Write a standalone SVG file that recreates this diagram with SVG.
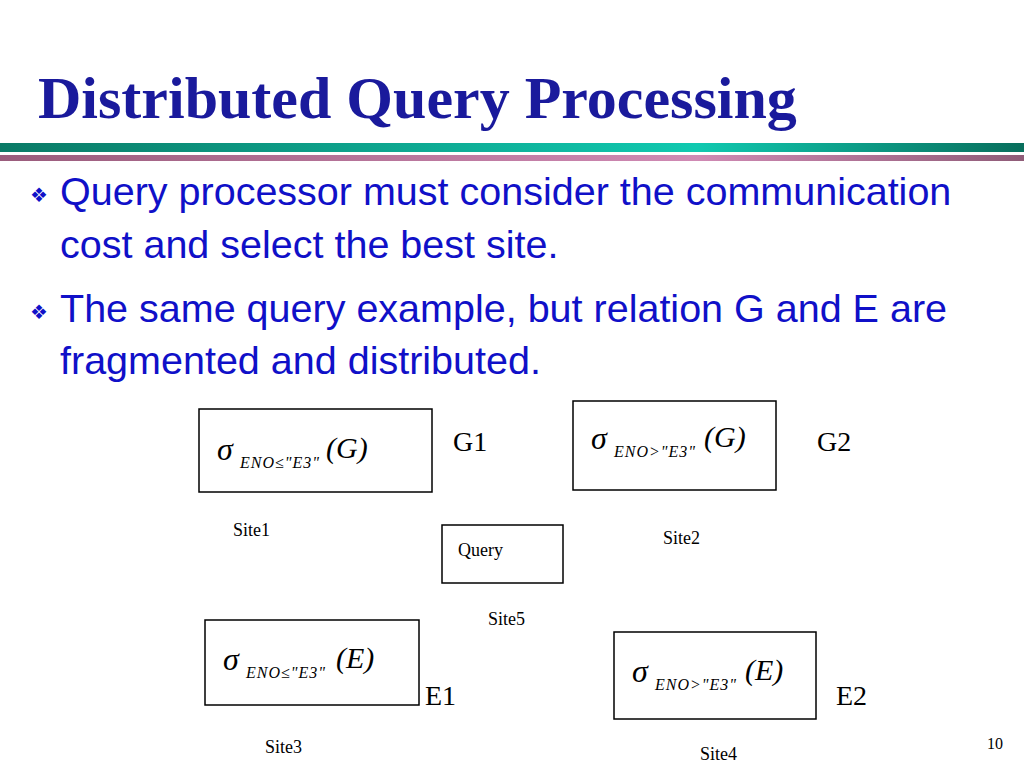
<svg xmlns="http://www.w3.org/2000/svg" width="1024" height="768" viewBox="0 0 1024 768">
<defs>
<linearGradient id="tg" x1="0" x2="1"><stop offset="0" stop-color="#0a7a66"/><stop offset="0.68" stop-color="#10c9b0"/><stop offset="1" stop-color="#086e5c"/></linearGradient>
<linearGradient id="pg" x1="0" x2="1"><stop offset="0" stop-color="#9a5c7c"/><stop offset="0.68" stop-color="#d08ab4"/><stop offset="1" stop-color="#8f5c78"/></linearGradient>
</defs>
<style>
.b{font-family:"Liberation Sans",Arial,sans-serif;font-size:39.5px;fill:#1010c8}
.d{font-family:"DejaVu Sans",sans-serif;font-size:20px;fill:#1010c8}
.s{font-family:"Liberation Serif","Times New Roman",serif;fill:#000}
.box{fill:#fff;stroke:#000;stroke-width:1.5}
.m{font-family:"Liberation Serif",serif;font-style:italic;fill:#000}
.sub{font-family:"Liberation Serif",serif;font-style:italic;fill:#000;font-size:16px;letter-spacing:1px}
</style>
<rect width="1024" height="768" fill="#fff"/>
<text x="38" y="118" font-family="Liberation Serif,serif" font-weight="bold" font-size="60" fill="#1a1a9c">Distributed Query Processing</text>
<rect x="0" y="143" width="1024" height="9" fill="url(#tg)"/>
<rect x="0" y="155" width="1024" height="6" fill="url(#pg)"/>
<text x="30" y="202" class="d">❖</text>
<text x="60" y="205" class="b">Query processor must consider the communication</text>
<text x="60" y="258" class="b">cost and select the best site.</text>
<text x="30" y="319" class="d">❖</text>
<text x="60" y="322" class="b">The same query example, but relation G and E are</text>
<text x="60" y="374" class="b">fragmented and distributed.</text>
<g id="site1"><rect class="box" x="199" y="409" width="233" height="83"/>
<text class="m" x="217" y="460" font-size="32">σ</text><text class="sub" x="240" y="468">ENO≤"E3"</text><text class="m" x="326" y="458" font-size="30">(G)</text>
<text class="s" x="233" y="536" font-size="18">Site1</text></g>
<text class="s" x="453" y="451" font-size="28">G1</text>
<g id="site2"><rect class="box" x="573" y="401" width="203" height="89"/>
<text class="m" x="591" y="449" font-size="32">σ</text><text class="sub" x="614" y="457">ENO&gt;"E3"</text><text class="m" x="704" y="447" font-size="30">(G)</text>
<text class="s" x="663" y="544" font-size="18">Site2</text></g>
<text class="s" x="817" y="451" font-size="28">G2</text>
<g id="site5"><rect class="box" x="442" y="525" width="121" height="58"/>
<text class="s" x="458" y="556" font-size="18">Query</text>
<text class="s" x="488" y="625" font-size="18">Site5</text></g>
<g id="site3"><rect class="box" x="205" y="620" width="214" height="85"/>
<text class="m" x="223" y="670" font-size="32">σ</text><text class="sub" x="246" y="678">ENO≤"E3"</text><text class="m" x="336" y="668" font-size="30">(E)</text>
<text class="s" x="265" y="753" font-size="18">Site3</text></g>
<text class="s" x="425" y="705" font-size="28">E1</text>
<g id="site4"><rect class="box" x="614" y="632" width="202" height="87"/>
<text class="m" x="632" y="682" font-size="32">σ</text><text class="sub" x="655" y="690">ENO&gt;"E3"</text><text class="m" x="745" y="680" font-size="30">(E)</text>
<text class="s" x="700" y="760" font-size="18">Site4</text></g>
<text class="s" x="836" y="705" font-size="28">E2</text>
<g id="connectors"/>
<text class="s" x="987" y="749" font-size="16">10</text>
</svg>
